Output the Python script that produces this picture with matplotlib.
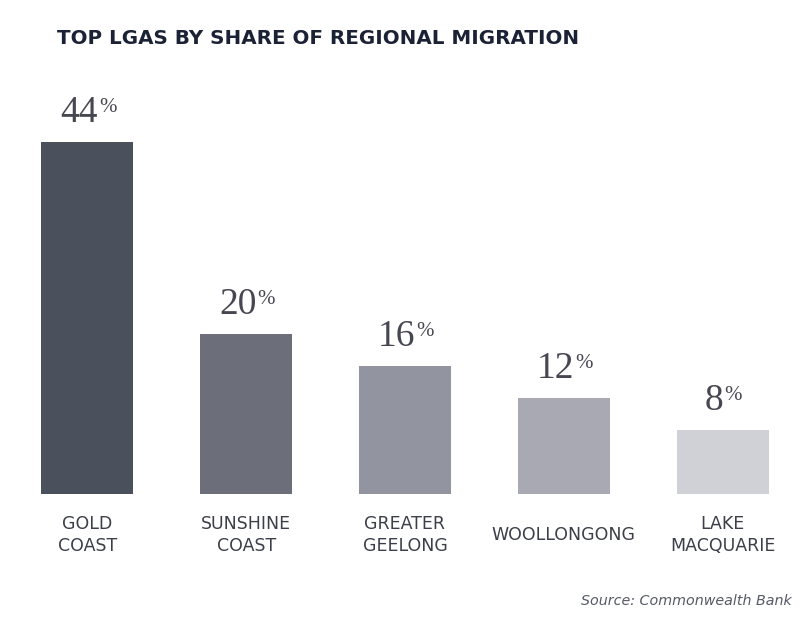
import matplotlib
matplotlib.use("Agg")
import matplotlib.pyplot as plt

categories = ["GOLD\nCOAST", "SUNSHINE\nCOAST", "GREATER\nGEELONG", "WOOLLONGONG", "LAKE\nMACQUARIE"]
values = [44, 20, 16, 12, 8]
colors = ["#4a505c", "#6c6f7a", "#92949f", "#a8a9b2", "#d0d1d6"]
title = "TOP LGAS BY SHARE OF REGIONAL MIGRATION"
source = "Source: Commonwealth Bank"

W, H = 807, 618
fig = plt.figure(figsize=(W / 100, H / 100), dpi=100)
fig.patch.set_facecolor("white")
ax = fig.add_axes([8 / W, (H - 494) / H, 794 / W, 400 / H])
x = list(range(len(values)))
ax.bar(x, values, width=0.58, color=colors, edgecolor="none")
ax.set_xlim(-0.5, len(values) - 0.5)
ax.set_ylim(0, 50)
ax.axis("off")

fig.canvas.draw()
renderer = fig.canvas.get_renderer()
for xi, v in zip(x, values):
    t = ax.annotate(str(v), (xi, v), xytext=(-6, 9), textcoords="offset points",
                    ha="center", va="bottom", fontsize=27,
                    family="Liberation Serif", color="#474752")
    bb = t.get_window_extent(renderer)
    fig.text((bb.x1 + 1) / W, (bb.y1 - 3) / H, "%", ha="left", va="top",
             fontsize=15, family="Liberation Serif", color="#474752")

for xi, c in zip(x, categories):
    fig.text((8 + (xi + 0.5) * 158.8) / W, (H - 535) / H, c, ha="center", va="center",
             fontsize=12.5, family="DejaVu Sans", color="#3c3f4a", linespacing=1.25)

fig.text(57 / W, (H - 38) / H, title, ha="left", va="center", fontsize=14.3,
         family="DejaVu Sans", fontweight="bold", color="#1c2236")
fig.text(792 / W, (H - 601) / H, source, ha="right", va="center", fontsize=10.3,
         family="DejaVu Sans", style="italic", color="#555a64")

fig.savefig("out.png", dpi=100, facecolor="white")
